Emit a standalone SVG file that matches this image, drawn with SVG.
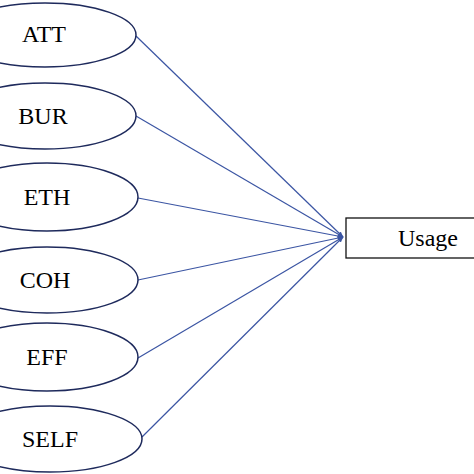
<svg xmlns="http://www.w3.org/2000/svg" width="474" height="474" viewBox="0 0 474 474">
<style>
.n ellipse{fill:#fff;stroke:#1e2a5c;stroke-width:1.5}
.n rect{fill:#fff;stroke:#111;stroke-width:1.3}
.n text{font-family:"Liberation Serif","Times New Roman",serif;font-size:24px;fill:#000;text-anchor:middle}
.c line{stroke:#3b55a3;stroke-width:1.2}
</style>
<defs>
<marker id="ah" viewBox="0 0 10 10" refX="9" refY="5" markerWidth="5" markerHeight="5" orient="auto"><path d="M0,1 L10,5 L0,9 z" fill="#3b55a3"/></marker>
</defs>
<rect width="474" height="474" fill="#fff"/>
<g class="c">
<line x1="136" y1="36" x2="343" y2="237" marker-end="url(#ah)"/>
<line x1="136" y1="116" x2="343" y2="237" marker-end="url(#ah)"/>
<line x1="138" y1="198" x2="343" y2="237" marker-end="url(#ah)"/>
<line x1="138" y1="280" x2="343" y2="237" marker-end="url(#ah)"/>
<line x1="138" y1="358" x2="343" y2="237" marker-end="url(#ah)"/>
<line x1="142" y1="437" x2="343" y2="237" marker-end="url(#ah)"/>
</g>
<g class="n" id="att"><ellipse cx="45" cy="35" rx="91" ry="32"/><text x="44" y="42">ATT</text></g>
<g class="n" id="bur"><ellipse cx="45" cy="116" rx="91" ry="33"/><text x="43" y="124">BUR</text></g>
<g class="n" id="eth"><ellipse cx="47" cy="197" rx="91" ry="34"/><text x="47" y="205">ETH</text></g>
<g class="n" id="coh"><ellipse cx="47" cy="280" rx="91" ry="33"/><text x="45" y="288">COH</text></g>
<g class="n" id="eff"><ellipse cx="47" cy="357" rx="91" ry="34"/><text x="47" y="365">EFF</text></g>
<g class="n" id="self"><ellipse cx="50" cy="439" rx="92" ry="33"/><text x="50" y="447">SELF</text></g>
<g class="n" id="usage"><rect x="346" y="218" width="140" height="40"/><text x="428" y="246">Usage</text></g>
</svg>
